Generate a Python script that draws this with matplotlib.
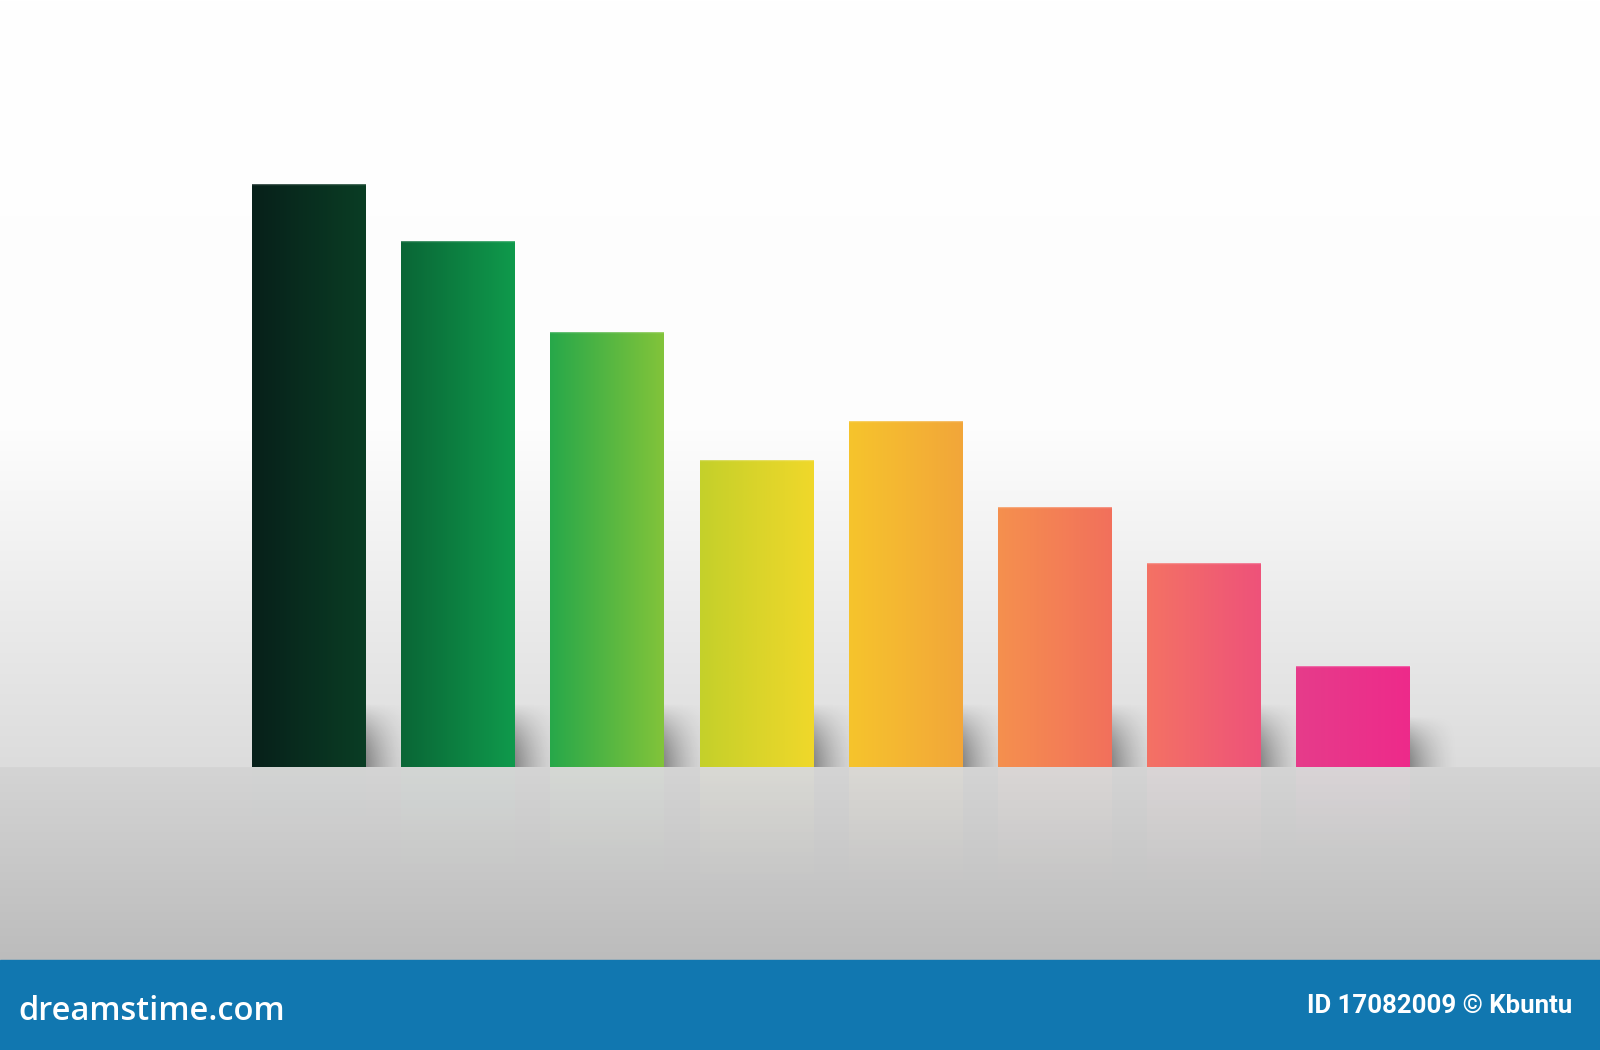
import numpy as np
import matplotlib.pyplot as plt
from matplotlib.colors import to_rgb

# bar heights (in pixels above the floor line)
values = [583, 526, 435, 307, 346, 260, 204, 101]
positions = list(range(len(values)))

# horizontal gradient of each bar: left colour -> right colour
left_colors = ['#07201a', '#0a6636', '#27a84a', '#c4d02a', '#f6c42c', '#f5904e', '#f47264', '#e63c8a']
right_colors = ['#0a3d24', '#0f9a4c', '#82c43a', '#f0d82a', '#f2a63a', '#f2705c', '#ee527a', '#ee2a8a']

W, H = 1600, 1050
fig = plt.figure(figsize=(16, 10.5), dpi=100)

# background: wall, floor and bottom band (pixel coordinates)
bg = fig.add_axes([0, 0, 1, 1])
bg.axis('off')

ys = np.arange(0, 767)
wall = np.interp(ys, [0, 430, 600, 767], [255, 253, 236, 220]) / 255.0
bg.imshow(np.repeat(wall[:, None, None], 3, axis=2), extent=(0, W, 767, 0), aspect='auto')
ys = np.arange(767, 960)
floor = np.interp(ys, [767, 960], [212, 188]) / 255.0
bg.imshow(np.repeat(floor[:, None, None], 3, axis=2), extent=(0, W, 960, 767), aspect='auto')
bg.add_patch(plt.Rectangle((0, 960), W, 90, color='#1177b0'))
bg.set_xlim(0, W)
bg.set_ylim(H, 0)

bg.text(18, 1012, 'dreamstime.com', color='white', fontsize=23.5, family='Open Sans',
        fontweight='semibold', va='center', ha='left')
bg.text(1572, 1006, 'ID 17082009 © Kbuntu', color='white', fontsize=18.5, family='Roboto',
        fontweight='bold', va='center', ha='right')

# chart axes: categories on x, values on y (1 unit = 1 px vertically)
step_px = 149.2
x0_px = 309
ax = fig.add_axes([0, 90 / H, 1, 960 / H])
ax.patch.set_alpha(0)
ax.axis('off')

bars = ax.bar(positions, values, width=114 / step_px, color=left_colors, zorder=3)

sh_w = 50 / step_px
for bar, c0, c1 in zip(bars, left_colors, right_colors):
    x, w, h = bar.get_x(), bar.get_width(), bar.get_height()

    # soft shadow on the wall to the right of the bar
    sh_h = min(64, h * 0.5)
    gx = np.linspace(0, 1, 60)
    gy = np.linspace(0, 1, 60)
    fx = np.clip(1 - gx, 0, 1) ** 1.8
    fy = np.sin(np.pi * np.clip(gy * 0.5 + 0.5, 0, 1))
    alpha = 0.42 * np.outer(fy[::-1], fx)
    rgba = np.zeros((60, 60, 4))
    rgba[..., 3] = alpha
    ax.imshow(rgba, extent=(x + w - 0.02, x + w + sh_w, 0, sh_h), aspect='auto',
              zorder=2, interpolation='bilinear')

    # gradient fill of the bar
    t = np.linspace(0, 1, 200)
    a, b = np.array(to_rgb(c0)), np.array(to_rgb(c1))
    grad = a[None, :] * (1 - t[:, None]) + b[None, :] * t[:, None]
    ax.imshow(grad[None, :, :], extent=(x, x + w, 0, h), aspect='auto', zorder=4)
    ax.plot([x, x + w], [h, h], color='white', alpha=0.25, lw=1, zorder=5)

    # faint reflection on the floor
    rh = min(h, 140)
    fade = np.linspace(1, 0, 80) ** 1.3
    refl = np.zeros((80, 2, 4))
    mix = 0.8 * np.ones(3) + 0.2 * (a + b) / 2
    refl[..., :3] = mix
    refl[..., 3] = 0.16 * fade[:, None]
    ax.imshow(refl, extent=(x, x + w, -rh, 0), aspect='auto', zorder=2,
              interpolation='bilinear')

ax.set_xlim(-x0_px / step_px, (W - x0_px) / step_px)
ax.set_ylim(-193, 767)

fig.savefig('out.png', dpi=100)
